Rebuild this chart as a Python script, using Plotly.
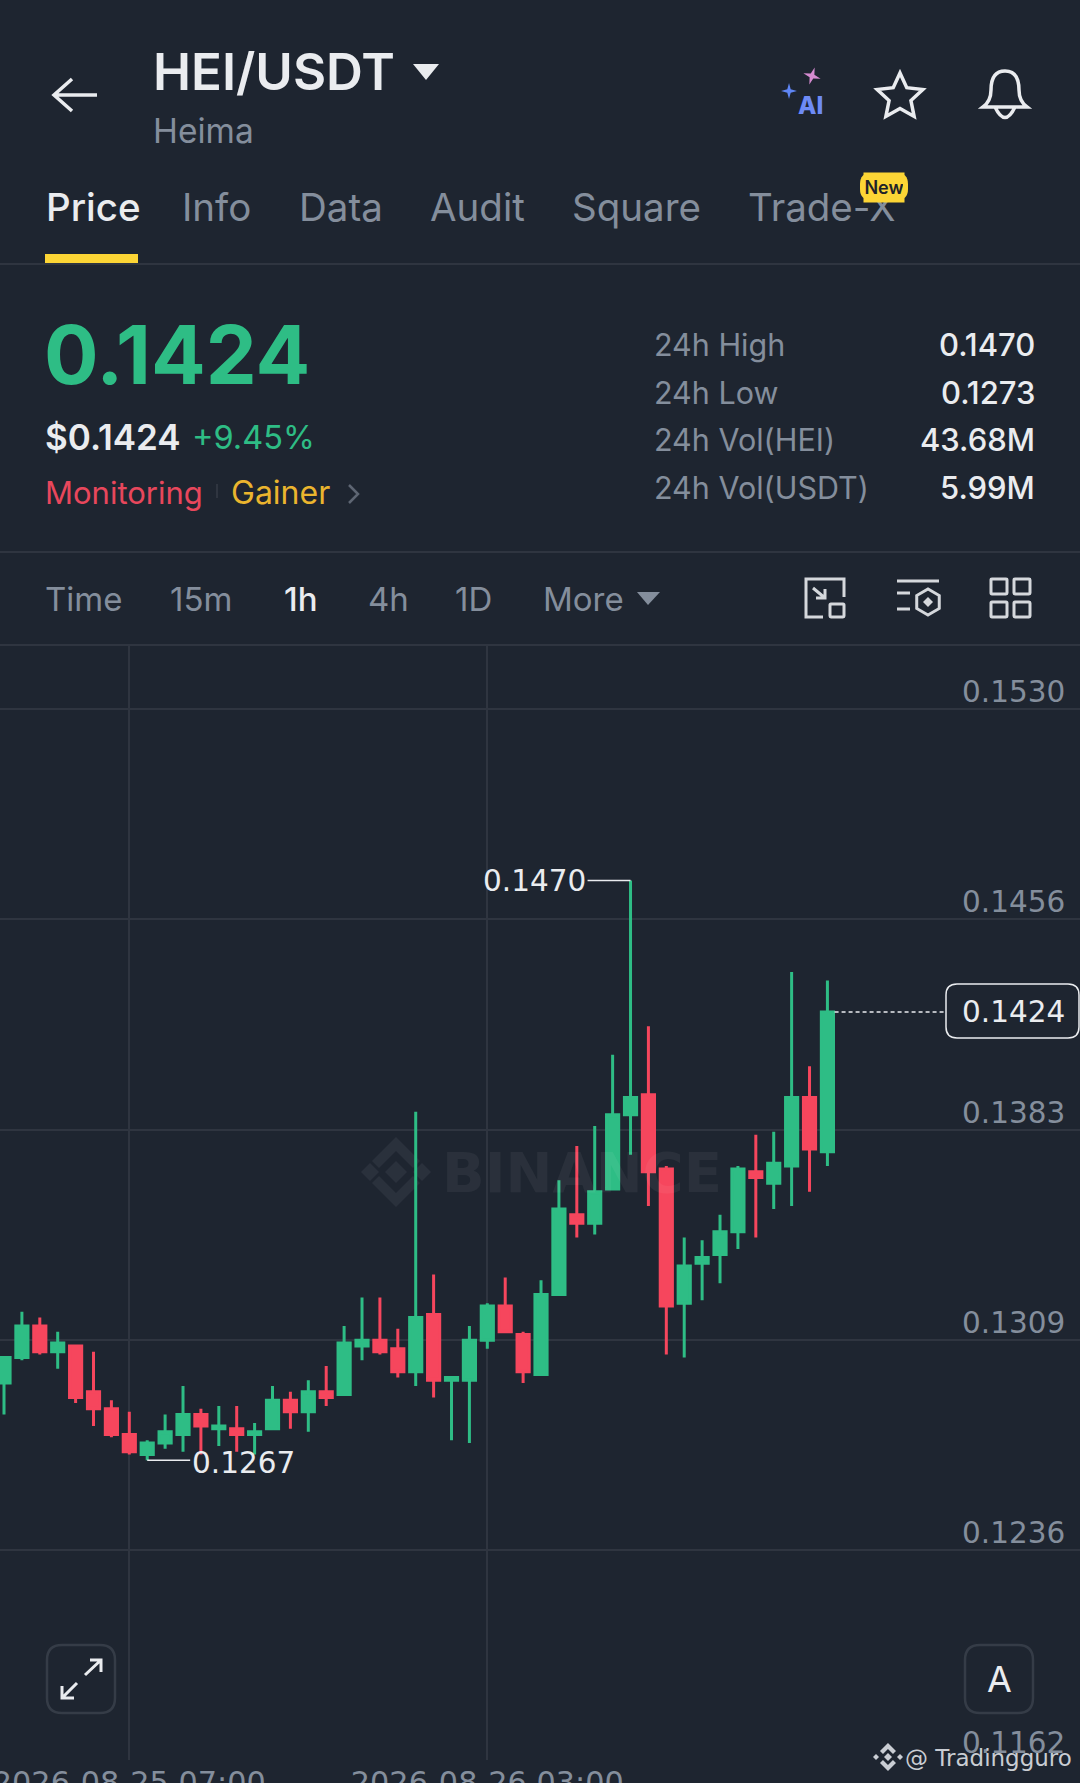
import math
import pandas as pd
import plotly.graph_objects as go

W = 1080
H = 1783
BG = "#1E2530"
GRID = "#2F3540"
GREEN = "#2EBD85"
RED = "#F6465D"
GREY = "#848E9C"
WHITE = "#EAECEF"
YELLOW = "#FCD535"

# hourly candles
times = pd.date_range("2026-08-25 00:00", periods=47, freq="h")
opens = [.1294, .1303, .1314, .1305, .1307, .1291, .1285, .1276, .1269, .1273,
         .1276, .1283, .1278, .1278, .1276, .1278, .1288, .1284, .1291, .1290,
         .1307, .1309, .1306, .1298, .1318, .1295, .1295, .1309, .1321, .1311,
         .1297, .1325, .1353, .1350, .1362, .1388, .1395, .1369, .1322, .1336,
         .1339, .1347, .1368, .1364, .1370, .1394, .1375]
highs = [.1303, .1319, .1317, .1312, .1307, .1305, .1288, .1284, .1274, .1283,
         .1293, .1285, .1286, .1286, .1280, .1293, .1291, .1295, .1300, .1314,
         .1324, .1324, .1313, .1389, .1332, .1296, .1314, .1322, .1331, .1312,
         .1330, .1365, .1377, .1384, .1409, .1470, .1419, .1370, .1345, .1344,
         .1353, .1370, .1381, .1382, .1438, .1405, .1435]
lows = [.1283, .1302, .1304, .1299, .1287, .1279, .1275, .1269, .1267, .1271,
        .1270, .1269, .1272, .1270, .1269, .1278, .1278, .1277, .1286, .1290,
        .1302, .1304, .1296, .1293, .1289, .1274, .1273, .1306, .1312, .1294,
        .1297, .1325, .1345, .1346, .1362, .1374, .1356, .1304, .1303, .1323,
        .1329, .1341, .1345, .1355, .1356, .1361, .1370]
closes = [.1303, .1314, .1305, .1308, .1289, .1285, .1276, .1270, .1273, .1277,
          .1283, .1279, .1279, .1276, .1277, .1288, .1284, .1291, .1289, .1308,
          .1309, .1305, .1298, .1317, .1295, .1296, .1309, .1321, .1312, .1298,
          .1325, .1355, .1350, .1361, .1388, .1394, .1368, .1321, .1335, .1338,
          .1347, .1369, .1366, .1371, .1394, .1376, .1424]

price_ticks = [.1530, .14564, .13828, .13092, .12356, .1162]
date_ticks = [times[7], times[27]]
last_price = closes[-1]

tabs = [("Price", 44), ("Info", 180), ("Data", 297), ("Audit", 428), ("Square", 570), ("Trade-X", 746)]
stats = [("24h High", "0.1470"), ("24h Low", "0.1273"), ("24h Vol(HEI)", "43.68M"), ("24h Vol(USDT)", "5.99M")]
intervals = [("Time", 43), ("15m", 168), ("1h", 282), ("4h", 366), ("1D", 453), ("More", 541)]


def path(*cmds):
    # commands in page pixels, turned into paper fractions
    out = []
    for c in cmds:
        nums = c[1:]
        pts = [f"{nums[i] / W:.5f},{1 - nums[i + 1] / H:.5f}" for i in range(0, len(nums), 2)]
        out.append(c[0] + " ".join(pts))
    return " ".join(out)


def rrect(x0, y0, x1, y1, r):
    return path(("M", x0 + r, y0), ("L", x1 - r, y0), ("Q", x1, y0, x1, y0 + r),
                ("L", x1, y1 - r), ("Q", x1, y1, x1 - r, y1), ("L", x0 + r, y1),
                ("Q", x0, y1, x0, y1 - r), ("L", x0, y0 + r), ("Q", x0, y0, x0 + r, y0), ("Z",))


def poly(points):
    return path(("M", *points[0]), *[("L", *p) for p in points[1:]], ("Z",))


def diamond(cx, cy, r):
    return poly([(cx, cy - r), (cx + r, cy), (cx, cy + r), (cx - r, cy)])


def sparkle(cx, cy, r, tilt=0.0):
    pts = []
    for k in range(8):
        rad = r if k % 2 == 0 else r * 0.3
        ang = tilt + k * math.pi / 4
        pts.append((cx + rad * math.sin(ang), cy - rad * math.cos(ang)))
    return poly(pts)


shapes = []
annotations = []


def stroke(d, color=WHITE, width=3, fill="rgba(0,0,0,0)", layer="above"):
    shapes.append(dict(type="path", xref="paper", yref="paper", path=d, layer=layer,
                       line=dict(color=color, width=width), fillcolor=fill))


def solid(d, color, layer="above"):
    shapes.append(dict(type="path", xref="paper", yref="paper", path=d, layer=layer,
                       line=dict(width=0), fillcolor=color))


def label(text, x, y, size, color, anchor="left", weight=400, family="Inter", **extra):
    annotations.append(dict(text=text, x=x / W, y=1 - y / H, xref="paper", yref="paper",
                            xanchor=anchor, yanchor="middle", showarrow=False,
                            font=dict(size=size, color=color, family=family, weight=weight), **extra))


# header
stroke(path(("M", 97, 95), ("L", 54, 95), ("M", 72, 79), ("L", 54, 95), ("L", 72, 111)), width=3.5)
label("HEI/USDT", 151, 72, 51, WHITE, weight=600)
solid(poly([(413, 64), (439, 64), (426, 80)]), WHITE)
label("Heima", 151, 131, 33.5, GREY)
solid(sparkle(812, 76, 9, 0.3), "#D58BD0")
solid(sparkle(789, 91, 8), "#5F86F5")
label("AI", 810, 105, 24, "#6E8BF5", anchor="center", weight=800)
star = []
for k in range(10):
    rad = 24 if k % 2 == 0 else 11.5
    ang = -math.pi / 2 + k * math.pi / 5
    star.append((900 + rad * math.cos(ang), 97 + rad * math.sin(ang)))
stroke(poly(star), width=3.5)
stroke(path(("M", 983, 107), ("Q", 991, 101, 991, 90), ("Q", 991, 71, 1005, 71), ("Q", 1019, 71, 1019, 90),
            ("Q", 1019, 101, 1027, 107), ("Z",), ("M", 995, 107), ("Q", 1005, 128, 1015, 107)), width=3.5)

# tabs
for i, (name, x) in enumerate(tabs):
    label(name, x, 207, 38.5, WHITE if i == 0 else GREY, weight=500 if i == 0 else 400)
solid(rrect(860, 173, 908, 200, 11), YELLOW)
label("New", 884, 187, 18, "#1E2329", anchor="center", weight=600, bgcolor=YELLOW, width=38, height=27)
solid(path(("M", 45, 254), ("L", 138, 254), ("L", 138, 263), ("L", 45, 263), ("Z",)), YELLOW)
for y in [264, 552, 645]:
    stroke(path(("M", 0, y), ("L", W, y)), color=GRID, width=2)

# price block
label("0.1424", 42, 355, 81, GREEN, weight=650)
label("$0.1424", 43, 437, 35, WHITE, weight=600)
label("+9.45%", 190, 437, 32.5, GREEN)
label("Monitoring", 43, 492, 31, "#E8475C")
stroke(path(("M", 217, 484), ("L", 217, 498)), color=GRID, width=2)
label("Gainer", 229, 492, 32, "#EBB52E")
stroke(path(("M", 349, 485), ("L", 358, 494), ("L", 349, 503)), color="#5E6673", width=2.5)
for i, (name, val) in enumerate(stats):
    label(name, 652, 344 + 48 * i, 30.5, GREY)
    label(val, 1037, 344 + 48 * i, 31, WHITE, anchor="right", weight=500)

# interval row
for name, x in intervals:
    label(name, x, 599, 33, WHITE if name == "1h" else GREY, weight=500 if name == "1h" else 400)
solid(poly([(637, 592), (660, 592), (648, 605)]), GREY)
ICON = "#D5D8DC"
stroke(path(("M", 823, 617), ("L", 806, 617), ("L", 806, 579), ("L", 844, 579), ("L", 844, 597)), color=ICON)
stroke(rrect(830, 604, 844, 617, 1), color=ICON)
stroke(path(("M", 813, 588), ("L", 825, 598), ("M", 825, 589), ("L", 825, 598), ("L", 816, 598)), color=ICON)
stroke(path(("M", 897, 581), ("L", 939, 581), ("M", 897, 593), ("L", 910, 593), ("M", 897, 609), ("L", 910, 609)), color=ICON)
hexa = [(928 + 13 * math.sin(k * math.pi / 3), 602 + 13 * math.cos(k * math.pi / 3)) for k in range(6)]
stroke(poly(hexa), color=ICON)
solid(diamond(928, 602, 5), ICON)
for x0 in [991, 1014]:
    for y0 in [579, 602]:
        stroke(rrect(x0, y0, x0 + 16, y0 + 15, 1), color=ICON)

# watermark behind the candles
MARK = "#2A313C"
for d in [diamond(396, 1172, 11), diamond(370, 1172, 9), diamond(422, 1172, 9)]:
    solid(d, MARK, layer="below")
solid(poly([(396, 1137), (420, 1161), (413, 1168), (396, 1151), (379, 1168), (372, 1161)]), MARK, layer="below")
solid(poly([(396, 1207), (420, 1183), (413, 1176), (396, 1193), (379, 1176), (372, 1183)]), MARK, layer="below")
label("BINANCE", 582, 1172, 56, "rgba(255,255,255,0.055)", anchor="center", weight=700, family="DejaVu Sans")

# price axis labels sit above their grid lines
for p in price_ticks:
    annotations.append(dict(text=f"{p:.4f}", x=1067 / W, y=p, xref="paper", yref="y", xanchor="right",
                            yanchor="bottom", yshift=-2, showarrow=False,
                            font=dict(size=29.5, color=GREY, family="DejaVu Sans")))

# high / low markers
hi = highs.index(max(highs))
lo = lows.index(min(lows))
hi_end = times[hi] - pd.Timedelta(hours=2.4)
lo_end = times[lo] + pd.Timedelta(hours=2.4)
shapes.append(dict(type="line", xref="x", yref="y", x0=times[hi], x1=hi_end, y0=highs[hi], y1=highs[hi],
                   line=dict(color=WHITE, width=1.5)))
shapes.append(dict(type="line", xref="x", yref="y", x0=times[lo], x1=lo_end, y0=lows[lo], y1=lows[lo],
                   line=dict(color=WHITE, width=1.5)))
annotations.append(dict(text=f"{highs[hi]:.4f}", x=hi_end, y=highs[hi], xref="x", yref="y", xanchor="right",
                        yanchor="middle", showarrow=False, font=dict(size=29.5, color=WHITE, family="DejaVu Sans")))
annotations.append(dict(text=f"{lows[lo]:.4f}", x=lo_end, y=lows[lo], xref="x", yref="y", xanchor="left",
                        yanchor="middle", yshift=-3, showarrow=False, font=dict(size=29.5, color=WHITE, family="DejaVu Sans")))

# last price tag
shapes.append(dict(type="line", xref="x", yref="y", x0=times[-1] + pd.Timedelta(hours=0.4),
                   x1=times[-1] + pd.Timedelta(hours=6.6), y0=last_price, y1=last_price,
                   line=dict(color=WHITE, width=1.5, dash="4px,3px")))
stroke(rrect(946, 984, 1079, 1038, 11), color=WHITE, width=1.5, fill=BG)
annotations.append(dict(text=f"{last_price:.4f}", x=1013 / W, y=last_price, xref="paper", yref="y",
                        xanchor="center", yanchor="middle", showarrow=False,
                        font=dict(size=29.5, color=WHITE, family="DejaVu Sans")))

# floating buttons
BTN = "#353C47"
stroke(rrect(47, 1645, 115, 1713, 15), color=BTN, width=2.5, fill=BG)
stroke(rrect(965, 1645, 1033, 1713, 15), color=BTN, width=2.5, fill=BG)
stroke(path(("M", 85, 1675), ("L", 101, 1660), ("M", 90, 1660), ("L", 101, 1660), ("L", 101, 1672)), width=3)
stroke(path(("M", 77, 1683), ("L", 62, 1698), ("M", 62, 1686), ("L", 62, 1698), ("L", 74, 1698)), width=3)
label("A", 999, 1679, 36, WHITE, anchor="center")

# footer credit
CREDIT = "#C9CDD3"
for d in [diamond(888, 1757, 4), diamond(876, 1757, 3), diamond(900, 1757, 3)]:
    solid(d, CREDIT)
solid(poly([(888, 1743), (896, 1751), (893, 1754), (888, 1749), (883, 1754), (880, 1751)]), CREDIT)
solid(poly([(888, 1771), (896, 1763), (893, 1760), (888, 1765), (883, 1760), (880, 1763)]), CREDIT)
label("@ Tradingguro", 903, 1758, 23, CREDIT, family="DejaVu Sans")

fig = go.Figure(go.Candlestick(
    x=times, open=opens, high=highs, low=lows, close=closes,
    increasing=dict(line=dict(color=GREEN, width=3), fillcolor=GREEN),
    decreasing=dict(line=dict(color=RED, width=3), fillcolor=RED),
    whiskerwidth=0, hoverinfo="skip",
))

fig.update_layout(
    width=W, height=H, margin=dict(l=0, r=0, t=0, b=0),
    paper_bgcolor=BG, plot_bgcolor=BG, showlegend=False,
    boxgap=0.32, boxgroupgap=0,
    shapes=shapes, annotations=annotations,
    xaxis=dict(
        domain=[0, 1], range=["2026-08-24 23:46:35", "2026-08-27 12:06:36"],
        rangeslider=dict(visible=False), tickmode="array", tickvals=date_ticks,
        tickformat="%Y-%m-%d %H:%M", showgrid=True, gridcolor=GRID, gridwidth=1.5,
        tickfont=dict(size=30.3, color=GREY, family="DejaVu Sans"), ticks="", ticklabelstandoff=2,
        ticklabeloverflow="allow", zeroline=False, automargin=False,
    ),
    yaxis=dict(
        domain=[1 - 1760 / H, 1 - 645 / H], range=[.1162, .15525], tickmode="array",
        tickvals=price_ticks, showticklabels=False, showgrid=True, gridcolor=GRID, gridwidth=1.5,
        zeroline=False, ticks="", automargin=False,
    ),
)

fig.write_html("out.html", config=dict(displayModeBar=False),
               post_script="document.body.style.margin='0';")
